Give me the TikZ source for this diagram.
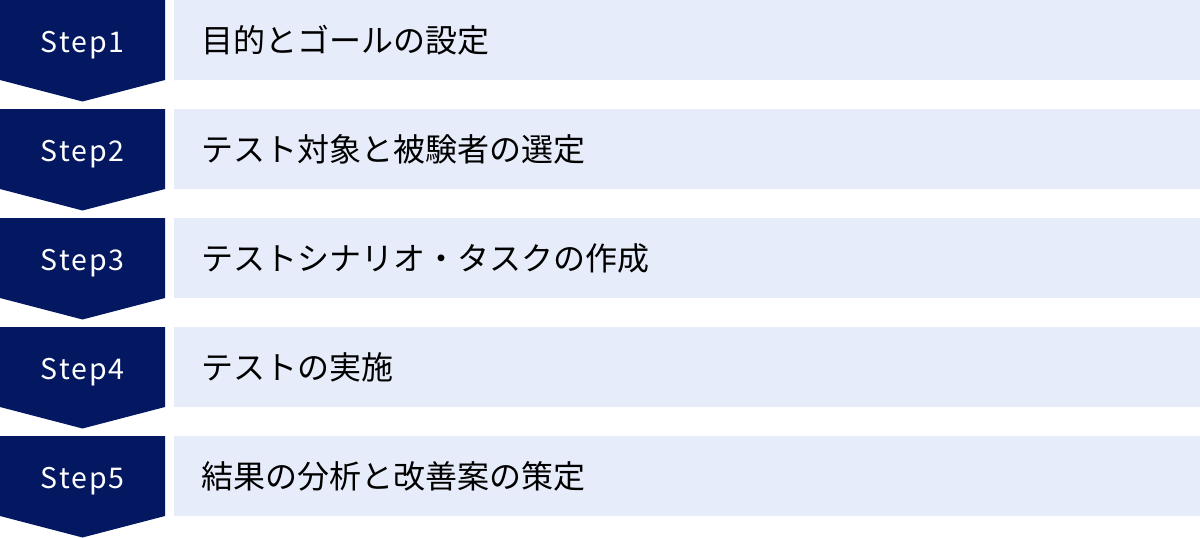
\documentclass[tikz,border=0pt]{standalone}
\usepackage{fontspec}
\setmainfont{Noto Sans}
\newfontfamily\jpfont{Noto Sans CJK JP}
\definecolor{navy}{HTML}{041862}
\definecolor{pale}{HTML}{E6ECF9}
\begin{document}
\begin{tikzpicture}[x=1pt,y=-1pt,
  stepshape/.style={fill=navy,draw=none},
  bar/.style={fill=pale,draw=none},
  steplabel/.style={text=white,font=\jpfont\fontsize{28.5}{28.5}\selectfont,anchor=base,inner sep=0pt},
  barlabel/.style={text=black,font=\jpfont\fontsize{32}{32}\selectfont,anchor=west,inner sep=0pt}]
\useasboundingbox (0,0) rectangle (1200,538);
\foreach \i/\t in {0/目的とゴールの設定,1/テスト対象と被験者の選定,2/テストシナリオ・タスクの作成,3/テストの実施,4/結果の分析と改善案の策定}{
  \pgfmathsetmacro{\y}{109*\i}
  \pgfmathtruncatemacro{\n}{\i+1}
  \fill[stepshape] (0,\y) -- (165,\y) -- (165,\y+80) -- (82.5,\y+101.5) -- (0,\y+80) -- cycle;
  \fill[bar] (174,\y) rectangle (1200,\y+80);
  \node[steplabel] (s\n) at (82.5,\y+52) {S\kern1.8pt t\kern1.8pt e\kern1.8pt p\kern1.8pt\n};
  \node[barlabel] (b\n) at (201,\y+40) {\t};
}
\end{tikzpicture}
\end{document}
